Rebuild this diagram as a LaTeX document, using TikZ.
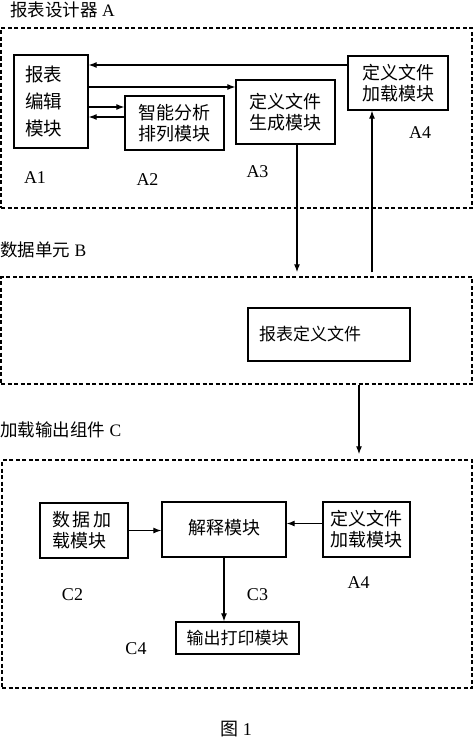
\documentclass[tikz,border=0pt]{standalone}
\usepackage{fontspec}
\setmainfont{Liberation Serif}
\newfontfamily\cjk{Noto Sans CJK SC}
\usetikzlibrary{arrows.meta}
\usetikzlibrary{positioning}
\tikzset{block/.style={draw, rectangle, text centered, line width=1.3pt, font=\cjk\fontsize{18}{21}\selectfont}}
\tikzset{group/.style={draw, rectangle, dash pattern=on 4pt off 2.5pt, line width=1.4pt}}
\tikzset{connect/.style={draw, line width=1.2pt, >={Latex[length=8pt,width=6pt]}}}
\tikzset{tag/.style={font=\fontsize{18}{20}\selectfont}}
\tikzset{title/.style={anchor=west, inner sep=0pt, font=\fontsize{17.5}{20}\selectfont}}

\begin{document}
\begin{tikzpicture}[x=1pt,y=-1pt]
\useasboundingbox (0,0) rectangle (474,739);

%designer A
\node[title] (titleA) at (10,10) {{\cjk 报表设计器} A};
\node[group,minimum width=471pt,minimum height=180pt] (designer) at (236.5,118) {};

%modules of A
\node[block,minimum width=74pt,minimum height=93pt,text width=52pt,inner xsep=11pt,align=left,font=\cjk\fontsize{18.5}{27}\selectfont] (editA) at (51,101.5) {报表\\编辑\\模块};
\node[block,minimum width=99pt,minimum height=54pt,align=center] (analyseA) at (174.5,123) {智能分析\\排列模块};
\node[block,minimum width=99pt,minimum height=64pt,align=center] (genA) at (285.5,112) {定义文件\\生成模块};
\node[block,minimum width=100pt,minimum height=54pt,align=center] (loadA) at (398,83) {定义文件\\加载模块};
\node[tag] (lblA1) at (35,178) {A1};
\node[tag] (lblA2) at (147.5,180) {A2};
\node[tag] (lblA3) at (257.5,172) {A3};
\node[tag] (lblA4) at (420,133) {A4};

%data unit B
\node[title] (titleB) at (0,250) {{\cjk 数据单元} B};
\node[group,minimum width=471pt,minimum height=107pt] (data) at (236.5,330.5) {};
\node[block,minimum width=162pt,minimum height=53pt,text width=140pt,inner xsep=11pt,align=left,font=\cjk\fontsize{17}{20}\selectfont] (deffile) at (329,334.5) {报表定义文件};

%loader C
\node[title] (titleC) at (0,430) {{\cjk 加载输出组件} C};
\node[group,minimum width=470pt,minimum height=228pt] (loader) at (237,574) {};
\node[block,minimum width=88pt,minimum height=55pt,text width=64pt,inner xsep=12pt,align=left] (dataC) at (84,530.5) {数\,据\,加\\载模块};
\node[block,minimum width=124pt,minimum height=55pt,text depth=6pt] (interpC) at (224,529.5) {解释模块};
\node[block,minimum width=87pt,minimum height=55pt,align=center] (loadC) at (366.5,529.5) {定义文件\\加载模块};
\node[block,minimum width=123pt,minimum height=32pt,font=\cjk\fontsize{17}{20}\selectfont] (printC) at (237.5,638) {输出打印模块};
\node[tag] (lblC2) at (72.5,595) {C2};
\node[tag] (lblC3) at (257.5,595) {C3};
\node[tag] (lblA4c) at (358.5,583) {A4};
\node[tag] (lblC4) at (136,649) {C4};

%caption
\node[tag] (caption) at (236,729) {{\cjk 图} 1};

%internal connections A
\path[connect,->] ([yshift=18pt]loadA.west) -- ([yshift=18pt]loadA.west -| editA.east);
\path[connect,->] ([yshift=25pt]genA.west -| editA.east) -- ([yshift=25pt]genA.west);
\path[connect,->] ([yshift=16pt]analyseA.west -| editA.east) -- ([yshift=16pt]analyseA.west);
\path[connect,->] ([yshift=6pt]analyseA.west) -- ([yshift=6pt]analyseA.west -| editA.east);

%A to B and back
\path[connect,->,shorten >=4pt] ([xshift=11.5pt]genA.south) -- ([xshift=11.5pt]genA.south |- data.north);
\path[connect,->,shorten <=4pt] ([xshift=-26pt]loadA.south |- data.north) -- ([xshift=-26pt]loadA.south);

%B to C
\path[connect,->,shorten >=5pt] ([xshift=30pt]deffile.south |- data.south) -- ([xshift=30pt]deffile.south |- loader.north);

%internal connections C
\path[connect,->] (dataC.east) -- (dataC.east -| interpC.west);
\path[connect,->] ([yshift=6pt]loadC.west) -- ([yshift=6pt]loadC.west -| interpC.east);
\path[connect,->] (interpC.south) -- (interpC.south |- printC.north);

\end{tikzpicture}
\end{document}
